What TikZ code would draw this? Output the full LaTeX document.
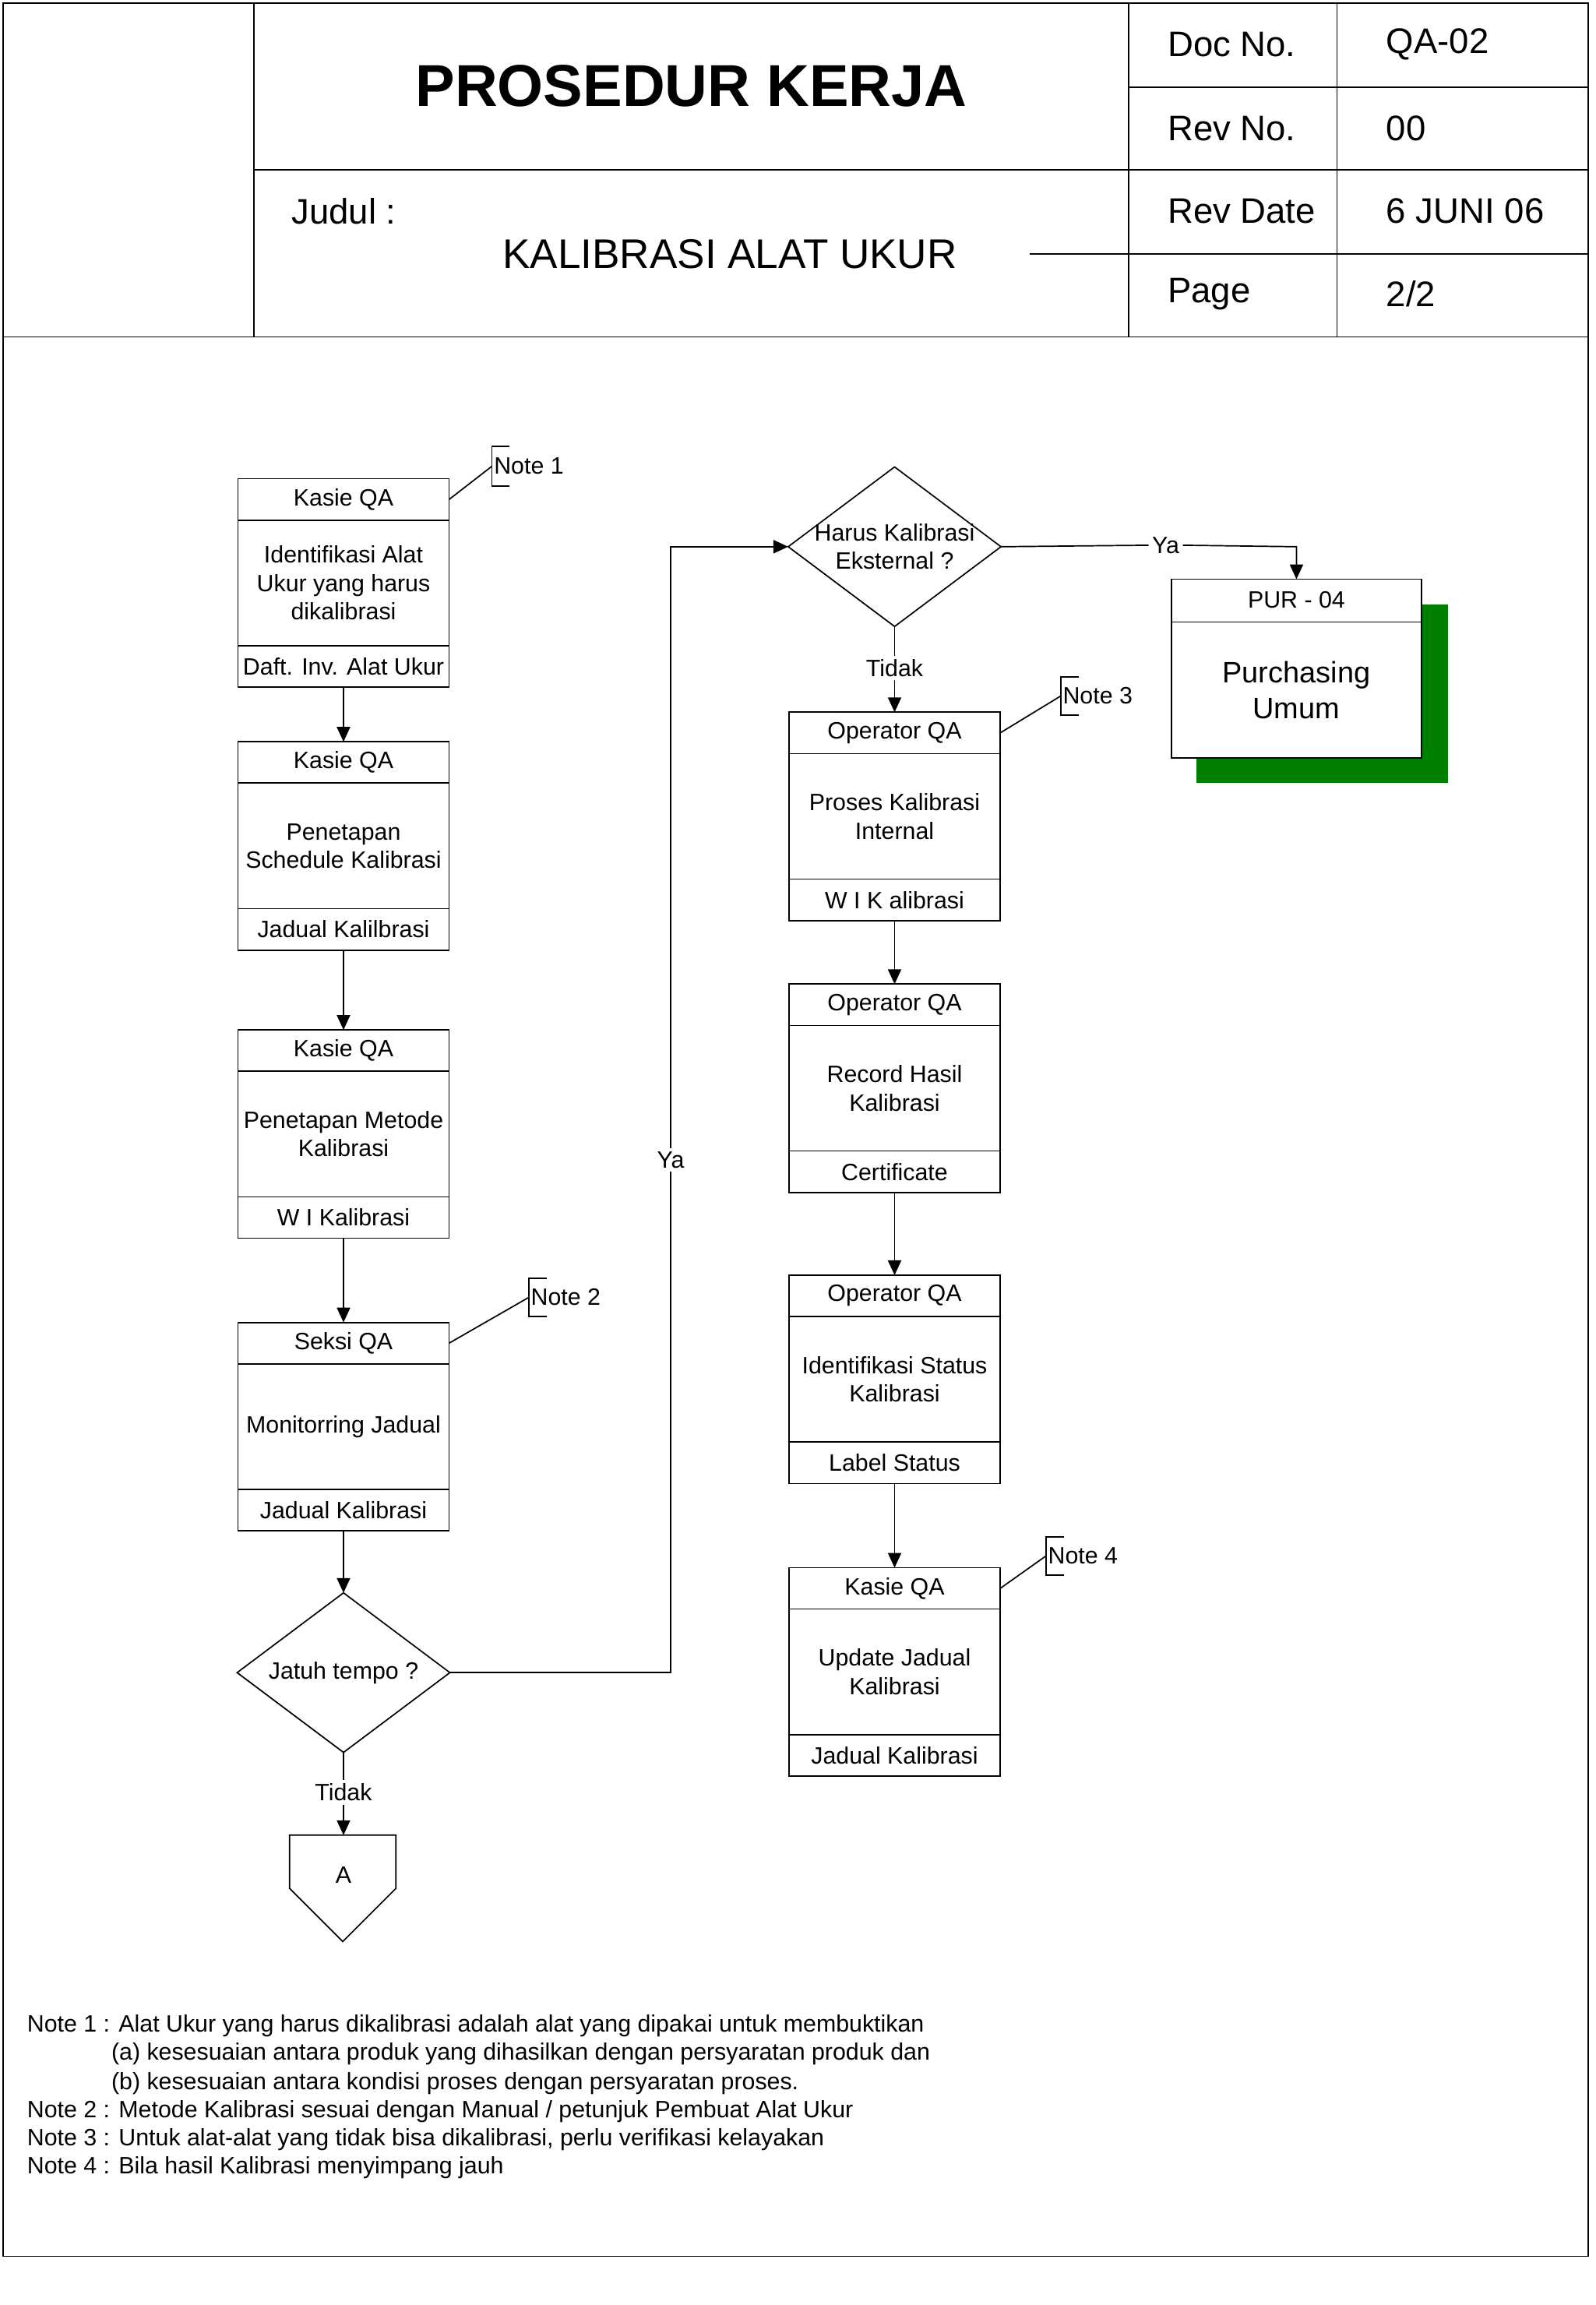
\documentclass[tikz,border=0pt]{standalone}
\usepackage{fontspec}
\setmainfont{Liberation Sans}
\usetikzlibrary{arrows.meta}
\definecolor{shad}{RGB}{0,128,0}
\newcommand\pbox[9]{%
\draw[bx] (#2-71.5,#3) rectangle (#2+71.5,#4);
\draw[bx] (#2-71.5,#5) -- (#2+71.5,#5) (#2-71.5,#6) -- (#2+71.5,#6);
\coordinate (#1t) at (#2,#3); \coordinate (#1b) at (#2,#4);
\coordinate (#1tr) at (#2+71.5,#3+14);
\node[tx] (#1h) at (#2,{(#3+#5)/2}) {#7};
\node[tx] (#1m) at (#2,{(#5+#6)/2}) {#8};
\node[tx] (#1f) at (#2,{(#6+#4)/2}) {#9};}
\newcommand\note[5]{% name, x, ytop, ybot, text ; bracket
\draw[bx] (#2+12,#3) -- (#2,#3) -- (#2,#4) -- (#2+12,#4);
\coordinate (#1) at (#2,{(#3+#4)/2});
\node[tx,anchor=west] at (#2+1,{(#3+#4)/2}) {#5};}
\begin{document}
\begin{tikzpicture}[x=0.5pt,y=-0.5pt,
 bx/.style={line width=0.45pt},
 tx/.style={font=\fontsize{8}{9.6}\selectfont,align=center,inner sep=0},
 hd/.style={font=\fontsize{12}{14}\selectfont,inner sep=0,anchor=west},
 ar/.style={bx,-{Triangle[length=5pt,width=4.5pt]}}]
\useasboundingbox (0,0) rectangle (1080,1560);
% frame
\draw[bx] (2,2) rectangle (1075,1527);
\draw[bx] (2,228) -- (1075,228);
\draw[bx] (172,2) -- (172,228);
\draw[bx] (172,115) -- (1075,115);
\draw[bx] (764,2) -- (764,228) (905,2) -- (905,228);
\draw[bx] (764,59) -- (1075,59) (697,172) -- (1075,172);
\node[font=\fontsize{20}{24}\selectfont\bfseries,inner sep=0] at (468,58) {PROSEDUR KERJA};
\node[hd] at (197,143) {Judul :};
\node[font=\fontsize{14}{16}\selectfont,inner sep=0] at (494,172) {KALIBRASI ALAT UKUR};
\node[hd] at (790,30) {Doc No.}; \node[hd] at (938,30) {QA-02};
\node[hd] at (790,87) {Rev No.}; \node[hd] at (938,87) {00};
\node[hd] at (790,143) {Rev Date}; \node[hd] at (938,143) {6 JUNI 06};
\node[hd] at (790,199) {Page}; \node[hd] at (938,199) {2/2};
% left column
\pbox{b1}{232.5}{324}{465}{352}{437}{Kasie QA}{Identifikasi Alat\\Ukur yang harus\\dikalibrasi}{Daft. Inv. Alat Ukur}
\pbox{b2}{232.5}{502}{643}{530}{615}{Kasie QA}{Penetapan\\Schedule Kalibrasi}{Jadual Kalilbrasi}
\pbox{b3}{232.5}{697}{838}{725}{810}{Kasie QA}{Penetapan Metode\\Kalibrasi}{W I Kalibrasi}
\pbox{b4}{232.5}{895}{1036}{923}{1008}{Seksi QA}{Monitorring Jadual}{Jadual Kalibrasi}
\draw[bx] (232.5,1078) coordinate (d1t) -- (304.5,1132) coordinate (d1r) -- (232.5,1186) coordinate (d1b) -- (160.5,1132) -- cycle;
\node[tx] (d1) at (232.5,1132) {Jatuh tempo ?};
\node[tx,fill=white,inner sep=1pt] (t1) at (232.5,1213) {Tidak};
\draw[bx] (196,1242) coordinate (at) -- (268,1242) -- (268,1278) -- (232,1314) -- (196,1278) -- cycle;
\coordinate (atop) at (232.5,1242);
\node[tx] (A) at (232.5,1269) {A};
\draw[ar] (b1b) -- (b2t); \draw[ar] (b2b) -- (b3t); \draw[ar] (b3b) -- (b4t);
\draw[ar] (b4b) -- (d1t);
\draw[bx] (d1b) -- (t1.north); \draw[ar] (t1.south) -- (atop);
% right column
\draw[bx] (605.5,316) coordinate (d2t) -- (677.5,370) coordinate (d2r) -- (605.5,424) coordinate (d2b) -- (533.5,370) coordinate (d2l) -- cycle;
\node[tx] (d2) at (605.5,370) {Harus Kalibrasi\\Eksternal ?};
\node[tx,fill=white,inner sep=1pt] (t2) at (605.5,452) {Tidak};
\pbox{c1}{605.5}{482}{623}{510}{595}{Operator QA}{Proses Kalibrasi\\Internal}{W I K alibrasi}
\pbox{c2}{605.5}{666}{807}{694}{779}{Operator QA}{Record Hasil\\Kalibrasi}{Certificate}
\pbox{c3}{605.5}{863}{1004}{891}{976}{Operator QA}{Identifikasi Status\\Kalibrasi}{Label Status}
\pbox{c4}{605.5}{1061}{1202}{1089}{1174}{Kasie QA}{Update Jadual\\Kalibrasi}{Jadual Kalibrasi}
\draw[bx] (d2b) -- (t2.north); \draw[ar] (t2.south) -- (c1t);
\draw[ar] (c1b) -- (c2t); \draw[ar] (c2b) -- (c3t); \draw[ar] (c3b) -- (c4t);
\node[tx,fill=white,inner sep=1pt] (ya1) at (454,785) {Ya};
\draw[bx] (d1r) -- (454,1132) -- (ya1.south);
\draw[ar] (ya1.north) -- (454,370) -- (d2l);
% PUR
\fill[shad] (810,409) rectangle (980,530);
\draw[bx,fill=white] (793,392) rectangle (962,513);
\draw[bx] (793,421) -- (962,421);
\coordinate (pt) at (877.5,392);
\node[tx] at (877.5,406) {PUR - 04};
\node[tx,font=\fontsize{10}{12}\selectfont] at (877.5,467) {Purchasing\\Umum};
\node[tx,fill=white,inner sep=1pt] (ya2) at (789,369) {Ya};
\draw[bx] (d2r) -- (ya2.west); \draw[ar] (ya2.east) -- (877.5,370) -- (pt);
% notes
\note{n1}{333}{302}{329}{Note 1}
\note{n2}{358}{865}{891}{Note 2}
\note{n3}{718}{458}{484}{Note 3}
\note{n4}{708}{1040}{1066}{Note 4}
\draw[bx] (b1tr) -- (n1); \draw[bx] (b4tr) -- (n2);
\draw[bx] (c1tr) -- (n3); \draw[bx] (c4tr) -- (n4);
% bottom notes
\begin{scope}[every node/.style={tx,anchor=west}]
\node at (18,1371) {Note 1 : Alat Ukur yang harus dikalibrasi adalah alat yang dipakai untuk membuktikan};
\node at (75,1390) {(a) kesesuaian antara produk yang dihasilkan dengan persyaratan produk dan};
\node at (75,1410) {(b) kesesuaian antara kondisi proses dengan persyaratan proses.};
\node at (18,1429) {Note 2 : Metode Kalibrasi sesuai dengan Manual / petunjuk Pembuat Alat Ukur};
\node at (18,1448) {Note 3 : Untuk alat-alat yang tidak bisa dikalibrasi, perlu verifikasi kelayakan};
\node at (18,1467) {Note 4 : Bila hasil Kalibrasi menyimpang jauh};
\end{scope}
\end{tikzpicture}
\end{document}
